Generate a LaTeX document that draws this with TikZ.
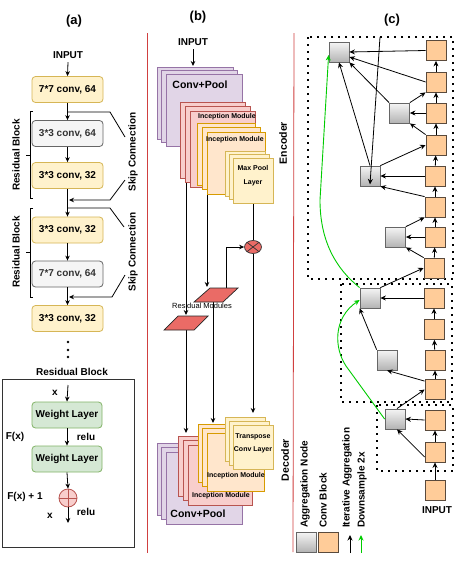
\documentclass[tikz,border=0pt]{standalone}
\usepackage{fontspec}
\setmainfont{Liberation Sans}
\usetikzlibrary{arrows.meta,shapes.geometric,calc}
\definecolor{yfill}{HTML}{FFF2CC}\definecolor{ydraw}{HTML}{D6B656}
\definecolor{gfill}{HTML}{F5F5F5}\definecolor{gdraw}{HTML}{666666}
\definecolor{wfill}{HTML}{D5E8D4}\definecolor{wdraw}{HTML}{82B366}
\definecolor{pfill}{HTML}{F8CECC}\definecolor{pdraw}{HTML}{B85450}
\definecolor{vfill}{HTML}{E1D5E7}\definecolor{vdraw}{HTML}{9673A6}
\definecolor{ofill}{HTML}{FFE6CC}\definecolor{odraw}{HTML}{D79B00}
\definecolor{rfill}{HTML}{EA6B66}
\definecolor{cfill}{HTML}{FFCC99}\definecolor{cdraw}{HTML}{5A4A3C}
\definecolor{ggrad}{HTML}{B3B3B3}
\definecolor{sepc}{HTML}{D04040}
\definecolor{grn}{HTML}{00CC00}
\definecolor{txtg}{HTML}{333333}
\begin{document}
\begin{tikzpicture}[x=1pt,y=-1pt,
  arr/.style={-{Stealth[length=5pt,width=4.5pt]}, line width=0.8pt},
  ln/.style={line width=0.8pt},
  ften/.style={font=\fontsize{10}{12}\selectfont\bfseries},
  ftit/.style={font=\fontsize{13}{15}\selectfont\bfseries},
  fsm/.style={font=\fontsize{7}{8.5}\selectfont\bfseries},
  boxa/.style={rounded corners=3.5pt, minimum width=71pt, minimum height=26pt, inner sep=0pt, line width=0.8pt, ften},
  yb/.style={boxa, fill=yfill, draw=ydraw},
  gb/.style={boxa, fill=gfill, draw=gdraw, text=txtg},
  wb/.style={boxa, minimum width=70pt, fill=wfill, draw=wdraw},
  vstk/.style={fill=vfill, draw=vdraw, line width=0.7pt},
  pstk/.style={fill=pfill, draw=pdraw, line width=0.7pt},
  ostk/.style={fill=ofill, draw=odraw, line width=0.7pt},
  ystk/.style={fill=yfill, draw=ydraw, line width=0.7pt},
  pmod/.style={fill=rfill, draw=black!85, line width=0.7pt},
  osq/.style={minimum size=20pt, inner sep=0pt, fill=cfill, draw=cdraw, line width=0.8pt},
  gsq/.style={minimum size=20pt, inner sep=0pt, top color=gfill, bottom color=ggrad, draw=gdraw, line width=0.8pt},
  carr/.style={-{Stealth[length=5.5pt,width=5pt]}, line width=0.8pt},
  garr/.style={-{Stealth[length=5.5pt,width=5pt]}, line width=0.9pt, draw=grn, color=grn},
  dotbox/.style={line width=1.8pt, dash pattern=on 1.8pt off 5.2pt}
]
\useasboundingbox (0,0) rectangle (474,573);
\fill[white] (0,0) rectangle (474,573);

% separators
\draw[sepc, line width=0.8pt] (147,33) -- (147,553);
\draw[sepc, line width=0.8pt] (294,33) -- (293,552);

% titles
\node[ftit] (ta) at (74,21) {(a)};
\node[ftit] (tb) at (198,17) {(b)};
\node[ftit] (tc) at (392,20) {(c)};

% ================= panel (a)
\node[ften] (inA) at (68,55) {INPUT};
\node[yb] (A1) at (67.5,89.5) {7*7 conv, 64};
\node[gb] (A2) at (67.5,133.5) {3*3 conv, 64};
\node[yb] (A3) at (67.5,175.5) {3*3 conv, 32};
\node[yb] (A4) at (67.5,230) {3*3 conv, 32};
\node[gb] (A5) at (67.5,274) {7*7 conv, 64};
\node[yb] (A6) at (67.5,318.5) {3*3 conv, 32};
\draw[arr] (inA.south) -- (A1.north);
\draw[arr] (A1.south) -- (A2.north);
\draw[arr] (A2.south) -- (A3.north);
\draw[arr] (A3.south) -- (A4.north);
\draw[arr] (A4.south) -- (A5.north);
\draw[arr] (A5.south) -- (A6.north);

% skip connections
\coordinate (s1a) at (67.5,112); \coordinate (s1b) at (110,112); \coordinate (s1c) at (125,137);
\coordinate (s1d) at (125,180); \coordinate (s1e) at (110,200); \coordinate (s1f) at (69,200);
\draw[ln] (s1a) -- (s1b) -- (s1c);
\draw[arr] (s1d) -- (s1e) -- (s1f);
\node[ften, rotate=90] (sk1) at (133,152) {Skip Connection};
\coordinate (s2a) at (67.5,208); \coordinate (s2b) at (110,208); \coordinate (s2c) at (124,227);
\coordinate (s2d) at (125,275); \coordinate (s2e) at (112,297); \coordinate (s2f) at (69,297);
\draw[ln] (s2a) -- (s2b) -- (s2c);
\draw[arr] (s2d) -- (s2e) -- (s2f);
\node[ften, rotate=90] (sk2) at (133,252) {Skip Connection};

% residual block brackets
\draw[ln] (33,111) -- (30,111) -- (30,198) -- (33,198);
\draw[ln] (30,155) -- (26,155);
\node[ften, rotate=90] (rb1) at (16,155) {Residual Block};
\draw[ln] (33,208) -- (30,208) -- (30,297) -- (33,297);
\draw[ln] (30,252) -- (26,252);
\node[ften, rotate=90] (rb2) at (16,252) {Residual Block};

% dots
\fill (68,342) circle (1.3pt) (68,350) circle (1.3pt) (68,357) circle (1.3pt);

% residual block detail
\node[ften] (rbt) at (72,372) {Residual Block};
\draw[line width=0.9pt, draw=black!80] (2,379) rectangle (134,547);
\coordinate (xin) at (68,385);
\node[wb] (W1) at (67,415) {Weight Layer};
\node[wb] (W2) at (67,459) {Weight Layer};
\node[circle, minimum size=18pt, inner sep=0pt, fill=pfill, draw=pdraw, line width=0.8pt] (C) at (68,498) {};
\draw[pdraw, line width=0.8pt] (C.north) -- (C.south) (C.west) -- (C.east);
\coordinate (xout) at (68,523);
\draw[arr] (xin) -- (W1.north);
\draw[arr] (W1.south) -- (W2.north);
\draw[arr] (W2.south) -- (C.north);
\draw[arr] (C.south) -- (xout);
\node[ften] (lx1) at (55,393) {x};
\node[ften] (lfx) at (15,437) {F(x)};
\node[ften] (lr1) at (86,437) {relu};
\node[ften] (lfx1) at (25,497) {F(x) + 1};
\node[ften] (lx2) at (50,516) {x};
\node[ften] (lr2) at (86,512) {relu};

% ================= panel (b)
\node[ften] (inB) at (193,42) {INPUT};
\coordinate (cpt) at (193,66);
\draw[arr] (inB.south) -- (cpt);

\coordinate (l1a) at (186,172); \coordinate (l1b) at (186,315);
\coordinate (l1c) at (186,330); \coordinate (l1d) at (186,433);
\coordinate (l2a) at (207,185); \coordinate (l2b) at (207,287);
\coordinate (l2c) at (213,302); \coordinate (l2d) at (213,423);
\coordinate (l3a) at (226,288); \coordinate (l3b) at (226,247);
\coordinate (l4a) at (253,196); \coordinate (l4d) at (253,413);
\node[ellipse, minimum width=17pt, minimum height=13pt, inner sep=0pt, fill=rfill, draw=black!80, line width=0.7pt] (X) at (253,247) {};
\draw[black!80, line width=0.7pt] (X.north west) -- (X.south east) (X.north east) -- (X.south west);
\draw[arr] (l1a) -- (l1b);
\draw[arr] (l1c) -- (l1d);
\draw[arr] (l2a) -- (l2b);
\draw[arr] (l2c) -- (l2d);
\draw[arr] (l3a) -- (l3b) -- (X.west);
\draw[ln] (l4a) -- (X.north);
\draw[arr] (X.south) -- (l4d);

% residual modules
\draw[pmod] (210,288) -- (238,288) -- (223,302) -- (194,302) -- cycle;
\draw[pmod] (178,316) -- (208,316) -- (194,330) -- (164,330) -- cycle;
\node[font=\fontsize{7.5}{9}\selectfont] (rmod) at (202,306) {Residual Modules};

% encoder stacks
\foreach \i in {0,1,2} \draw[vstk] ($(157,67)+\i*(4.5,3.5)$) rectangle ++(76,72);
\foreach \i in {0,1,2} \draw[pstk] ($(180,102)+\i*(5,4.5)$) rectangle ++(65,76);
\foreach \i in {0,1,2} \draw[ostk] ($(197,123)+\i*(5,4.5)$) rectangle ++(58,62);
\foreach \i in {0,1,2} \draw[ystk] ($(225,151)+\i*(4,3.5)$) rectangle ++(40,45);
\node[font=\fontsize{10.5}{12}\selectfont\bfseries] (ecp) at (200,85) {Conv+Pool};
\node[fsm] (ei1) at (227,117) {Inception Module};
\node[fsm] (ei2) at (235,140) {Inception Module};
\node[fsm] (emp1) at (253,168) {Max Pool};
\node[fsm] (emp2) at (253,183) {Layer};

% decoder stacks
\foreach \i in {0,1,2} \draw[vstk] ($(157,443)+\i*(4.5,4.5)$) rectangle ++(76,72);
\foreach \i in {0,1,2} \draw[pstk] ($(178,436)+\i*(5,4.5)$) rectangle ++(64,60);
\foreach \i in {0,1,2} \draw[ostk] ($(198,424)+\i*(4.5,4.5)$) rectangle ++(57,58);
\foreach \i in {0,1,2} \draw[ystk] ($(225,417)+\i*(4,4)$) rectangle ++(40,44);
\node[font=\fontsize{10.5}{12}\selectfont\bfseries] (dcp) at (198,514) {Conv+Pool};
\node[fsm] (di1) at (221,496) {Inception Module};
\node[fsm] (di2) at (236,476) {Inception Module};
\node[fsm] (dt1) at (253,437) {Transpose};
\node[fsm] (dt2) at (253,450) {Conv Layer};

\node[font=\fontsize{10.5}{12}\selectfont\bfseries, rotate=90] (enc) at (283,143) {Encoder};
\node[font=\fontsize{10.5}{12}\selectfont\bfseries, rotate=90] (dec) at (285,460) {Decoder};

% ================= panel (c)
\draw[dotbox] (308,37) rectangle (453,279);
\draw[dotbox] (341,284) rectangle (452,402);
\draw[dotbox] (377,405) rectangle (453,471);

\node[osq] (O1) at (436,50.5) {};
\node[osq] (O2) at (436,82) {};
\node[osq] (O3) at (436,113) {};
\node[osq] (O4) at (436,145) {};
\node[osq] (O5) at (435,176) {};
\node[osq] (O6) at (435,207) {};
\node[osq] (O7) at (435,237) {};
\node[osq] (O8) at (434,268) {};
\node[osq] (O9) at (434,298) {};
\node[osq] (O10) at (434,329.5) {};
\node[osq] (O11) at (435,360) {};
\node[osq] (O12) at (435,389.5) {};
\node[osq] (O13) at (435,420) {};
\node[osq] (O14) at (435,452) {};
\node[osq] (IN) at (435,490) {};
\node[ften] (inC) at (437,510) {INPUT};

\node[gsq] (G1) at (339,52) {};
\node[gsq] (G2) at (399.5,113) {};
\node[gsq] (G3) at (370,176) {};
\node[gsq] (G4) at (395.5,237) {};
\node[gsq] (G5) at (370,298) {};
\node[gsq] (G6) at (387,360) {};
\node[gsq] (G7) at (395,419) {};

% vertical chain
\draw[carr] (IN) -- (O14);
\draw[carr] (O14) -- (O13);
\draw[carr] (O12) -- (O11);
\draw[carr] (O11) -- (O10);
\draw[carr] (O10) -- (O9);
\draw[carr] (O8) -- (O7);
\draw[carr] (O7) -- (O6);
\draw[carr] (O6) -- (O5);
\draw[carr] (O5) -- (O4);
\draw[carr] (O4) -- (O3);
\draw[carr] (O3) -- (O2);
\draw[carr] (O2) -- (O1);

% aggregation links
\draw[carr] (O1.west) -- (G1.east);
\draw[carr] (O2.west) -- ([yshift=-5pt]G1.east);
\draw[carr] (G2.north west) -- (G1.south east);
\draw[carr] (G3.north) -- (G1.south);
\coordinate (ltop) at (380,37);
\draw[carr] (ltop) -- ([yshift=2pt]G3.south);
\draw[carr] (G2.north east) -- (O2.south west);
\draw[carr] (O3.west) -- (G2.east);
\draw[carr] (O4.north west) -- (G2.south east);
\draw[carr] (G3.north east) -- (O4.west);
\draw[carr] (O5.west) -- (G3.east);
\draw[carr] (O6.north west) -- (G3.south east);
\draw[carr] (G4.north east) -- (O6.south west);
\draw[carr] (O7.west) -- (G4.east);
\draw[carr] (O8.north west) -- (G4.south east);
\draw[carr] (G5.north east) -- (O8.west);
\draw[carr] (O9.west) -- (G5.east);
\draw[carr] (G6.north west) -- (G5.south west);
\draw[carr] ([yshift=-2pt]O12.north west) -- (G6.south);
\draw[carr] ([xshift=2pt]G7.north) -- (O12.west);
\draw[carr] (O13.west) -- (G7.east);
\draw[carr] ([yshift=-5pt]O14.west) -- ([xshift=2pt]G7.south);

% downsample (green)
\draw[garr] (G5.north west) .. controls (335,268) and (320,240) .. (320,200) -- ([yshift=-3pt]G1.west);
\draw[garr] (G7.west) -- (346,366) .. controls (334,348) and (333,318) .. ([yshift=-2pt]G5.west);

% legend
\node[gsq] (LG) at (306,542) {};
\node[osq] (LO) at (328,542) {};
\coordinate (la1) at (350,553); \coordinate (la2) at (350,535);
\coordinate (lg1) at (361,553); \coordinate (lg2) at (361,535);
\draw[carr] (la1) -- (la2);
\draw[garr] (lg1) -- (lg2);
\node[ften, rotate=90, anchor=west, inner sep=0pt] (t1) at (305,528) {Aggregation Node};
\node[ften, rotate=90, anchor=west, inner sep=0pt] (t2) at (323,528) {Conv Block};
\node[ften, rotate=90, anchor=west, inner sep=0pt] (t3) at (347,528) {Iterative Aggregation};
\node[ften, rotate=90, anchor=west, inner sep=0pt] (t4) at (362,528) {Downsample 2x};
\end{tikzpicture}
\end{document}
